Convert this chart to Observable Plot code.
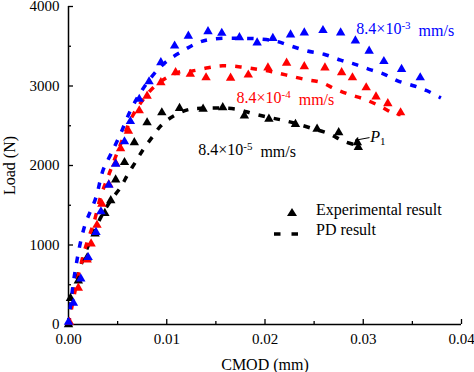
<!DOCTYPE html>
<html><head><meta charset="utf-8">
<script src="https://cdn.jsdelivr.net/npm/d3@7"></script>
<script src="https://cdn.jsdelivr.net/npm/@observablehq/plot@0.6"></script>
<style>
body{margin:0;background:#fff;}
#wrap{position:relative;width:474px;height:372px;font-family:Liberation Serif, Times New Roman, serif;color:#000;}
#wrap svg text{font-family:Liberation Serif, Times New Roman, serif;}
.leg{position:absolute;font-size:16px;line-height:16px;white-space:nowrap;font-family:Liberation Serif, Times New Roman, serif;}
</style></head><body><div id="wrap"></div>
<script>
// ---- data (CMOD in mm, Load in N) ----
const blueExpCmod = [0, 0.0005, 0.00125, 0.0020, 0.0028, 0.0033, 0.0041, 0.0048, 0.0057, 0.0063, 0.0072, 0.0082, 0.0094, 0.0108, 0.0122, 0.0142, 0.0156, 0.0174, 0.0192, 0.0208, 0.0226, 0.0240, 0.0259, 0.0277, 0.0292, 0.0306, 0.0321, 0.0339, 0.0358];
const blueExpLoad = [30, 270, 575, 845, 1160, 1420, 1755, 2020, 2300, 2555, 2835, 3055, 3295, 3505, 3630, 3685, 3665, 3610, 3545, 3600, 3645, 3670, 3700, 3670, 3570, 3440, 3310, 3210, 3105];

const redExpCmod = [0.0001, 0.0010, 0.0019, 0.0023, 0.0029, 0.0034, 0.0041, 0.0048, 0.0053, 0.0061, 0.0072, 0.0080, 0.0094, 0.0109, 0.0124, 0.0140, 0.0165, 0.0183, 0.0203, 0.0222, 0.0240, 0.0261, 0.0278, 0.0289, 0.0303, 0.0313, 0.0325, 0.0338];
const redExpLoad = [30, 460, 815, 1015, 1250, 1515, 1760, 2025, 2215, 2435, 2690, 2875, 3045, 3170, 3150, 3105, 3100, 3140, 3230, 3290, 3245, 3230, 3170, 3105, 2980, 2865, 2780, 2665];

const blackExpCmod = [0, 0.0002, 0.0010, 0.0019, 0.0027, 0.0037, 0.0043, 0.0048, 0.0057, 0.0067, 0.0080, 0.0095, 0.0113, 0.0137, 0.0157, 0.0179, 0.0204, 0.0231, 0.0253, 0.0275, 0.0294, 0.0295];
const blackExpLoad = [0, 330, 550, 840, 1140, 1400, 1560, 1820, 2040, 2290, 2540, 2665, 2720, 2710, 2730, 2625, 2585, 2520, 2460, 2415, 2290, 2230];

const bluePdCmod = [0, 0.0006, 0.0016, 0.0028, 0.0035, 0.0043, 0.0053, 0.0063, 0.0075, 0.0089, 0.0101, 0.0116, 0.0131, 0.0146, 0.0175, 0.0196, 0.0211, 0.0226, 0.0243, 0.0260, 0.0277, 0.0291, 0.0306, 0.0321, 0.0335, 0.0352, 0.0365, 0.0379];
const bluePdLoad = [0, 615, 1220, 1600, 1935, 2140, 2400, 2690, 2950, 3180, 3320, 3440, 3540, 3590, 3600, 3590, 3565, 3505, 3440, 3400, 3325, 3275, 3210, 3150, 3065, 3000, 2940, 2850];

const redPdCmod = [0, 0.0009, 0.0017, 0.0026, 0.0033, 0.0040, 0.0047, 0.0055, 0.0065, 0.0076, 0.0088, 0.0102, 0.0114, 0.0126, 0.0142, 0.0157, 0.0175, 0.0192, 0.0207, 0.0221, 0.0240, 0.0257, 0.0272, 0.0287, 0.0301, 0.0318, 0.0331, 0.0338];
const redPdLoad = [0, 560, 960, 1290, 1620, 1850, 2080, 2330, 2620, 2830, 3000, 3120, 3180, 3190, 3230, 3255, 3240, 3210, 3180, 3140, 3085, 3045, 2960, 2890, 2835, 2740, 2655, 2640];

const blackPdCmod = [0, 0.0003, 0.0012, 0.0022, 0.0033, 0.0043, 0.0053, 0.0060, 0.0069, 0.0076, 0.0086, 0.0094, 0.0104, 0.0121, 0.0138, 0.0170, 0.0187, 0.0204, 0.0218, 0.0231, 0.0247, 0.0265, 0.0281, 0.0296];
const blackPdLoad = [0, 330, 720, 1050, 1350, 1560, 1725, 1880, 2060, 2200, 2370, 2500, 2600, 2700, 2720, 2710, 2655, 2605, 2570, 2530, 2470, 2400, 2300, 2250];

const rateLabels = ["8.4×10^-3 mm/s", "8.4×10^-4 mm/s", "8.4×10^-5 mm/s"];
const rateColors = ["#0000ff", "#ff0000", "#000000"];
const rateLabelCmod = [0.0293, 0.0171, 0.0132];
const rateLabelLoad = [3720, 2850, 2200];

const p1Label = ["P_1"];
const p1Cmod = [0.0307];
const p1Load = [2360];
const p1ArrowFrom = [0.0306, 2350];
const p1ArrowTo = [0.0292, 2318];

const xTicks = [0, 0.01, 0.02, 0.03, 0.04];
const xMinor = [0.005, 0.015, 0.025, 0.035];
const yTicks = [0, 1000, 2000, 3000, 4000];
const yMinor = [500, 1500, 2500, 3500];

const legendLabels = ["Experimental result", "PD result"];

// ---- build tables ----
const zip = (xs, ys) => xs.map((x, i) => ({x, y: ys[i]}));
const series = [
  {exp: zip(blackExpCmod, blackExpLoad), pd: zip(blackPdCmod, blackPdLoad), color: rateColors[2]},
  {exp: zip(redExpCmod, redExpLoad), pd: zip(redPdCmod, redPdLoad), color: rateColors[1]},
  {exp: zip(blueExpCmod, blueExpLoad), pd: zip(bluePdCmod, bluePdLoad), color: rateColors[0]}
];
const labelData = rateLabels.map((t, i) => ({t, x: rateLabelCmod[i], y: rateLabelLoad[i], c: rateColors[i]}));

const dash = {strokeWidth: 3.5, strokeDasharray: "6.5,9", strokeLinecap: "butt", curve: "catmull-rom"};
const FONT = "Liberation Serif, Times New Roman, serif";

const marks = [
  Plot.axisX(xMinor, {tickSize: -3, tickFormat: () => "", label: null, strokeWidth: 1.3}),
  Plot.axisX(xTicks, {tickSize: -5, tickFormat: d3.format(".2f"), label: "CMOD (mm)", labelAnchor: "center", labelArrow: "none", strokeWidth: 1.3}),
  Plot.axisY(yMinor, {tickSize: -3, tickFormat: () => "", label: null, strokeWidth: 1.3}),
  Plot.axisY(yTicks, {tickSize: -5, tickFormat: d3.format("d"), label: "Load (N)", labelAnchor: "center", labelArrow: "none", strokeWidth: 1.3}),
  Plot.ruleX([0], {strokeWidth: 1.5}),
  Plot.ruleY([0], {strokeWidth: 1.5})
];
for (const s of series) {
  marks.push(Plot.line(s.pd, {x: "x", y: "y", stroke: s.color, ...dash}));
}
for (const s of series) {
  marks.push(Plot.dot(s.exp, {x: "x", y: "y", symbol: "triangle", r: 3.5, fill: s.color, stroke: "none"}));
}
marks.push(
  Plot.text(labelData, {x: "x", y: "y", text: "t", fill: "c", textAnchor: "start", fontSize: 16}),
  Plot.text(p1Label, {x: () => p1Cmod[0], y: () => p1Load[0], text: d => d, textAnchor: "start", fontSize: 16}),
  Plot.arrow([0], {x1: () => p1ArrowFrom[0], y1: () => p1ArrowFrom[1], x2: () => p1ArrowTo[0], y2: () => p1ArrowTo[1], stroke: "black", strokeWidth: 1, headLength: 5})
);

const plot = Plot.plot({
  width: 474, height: 372,
  marginLeft: 68, marginRight: 13, marginTop: 6, marginBottom: 48,
  x: {domain: [0, 0.04]},
  y: {domain: [0, 4000]},
  style: {fontFamily: FONT, fontSize: "15px", background: "white", color: "black", overflow: "visible"},
  marks
});

// superscript / subscript handling
d3.select(plot).selectAll("text").each(function() {
  const el = d3.select(this);
  const txt = this.textContent;
  if (txt.includes("^")) {
    const [base, restAll] = txt.split("^");
    const sp = restAll.indexOf(" ");
    const sup = restAll.slice(0, sp), rest = restAll.slice(sp + 1);
    el.text(null);
    el.append("tspan").text(base);
    el.append("tspan").attr("dy", "-0.45em").attr("font-size", "11px").text(sup);
    el.append("tspan").attr("dy", "0.45em").text("\u00a0\u00a0" + rest);
  } else if (txt.includes("_")) {
    const [base, sub] = txt.split("_");
    el.text(null);
    el.append("tspan").attr("font-style", "italic").text(base);
    el.append("tspan").attr("dy", "0.3em").attr("font-size", "11px").text(sub);
  }
});
// axis titles slightly larger
d3.select(plot).selectAll('g[aria-label="x-axis label"] text, g[aria-label="y-axis label"] text').attr("font-size", "16px");

const wrap = document.getElementById("wrap");
wrap.appendChild(plot);

// legend overlay
const l1 = document.createElement("div");
l1.className = "leg"; l1.style.left = "286px"; l1.style.top = "204px";
l1.innerHTML = '<svg width="12" height="10"><polygon points="6,1 11,9 1,9" fill="black"/></svg>';
wrap.appendChild(l1);
const t1 = document.createElement("div");
t1.className = "leg"; t1.style.left = "316px"; t1.style.top = "202px"; t1.textContent = legendLabels[0];
wrap.appendChild(t1);
const l2 = document.createElement("div");
l2.className = "leg"; l2.style.left = "274px"; l2.style.top = "226px";
l2.innerHTML = '<svg width="34" height="10"><line x1="0" y1="5" x2="30" y2="5" stroke="black" stroke-width="3.5" stroke-dasharray="6.5,11"/></svg>';
wrap.appendChild(l2);
const t2 = document.createElement("div");
t2.className = "leg"; t2.style.left = "316px"; t2.style.top = "222px"; t2.textContent = legendLabels[1];
wrap.appendChild(t2);
</script></body></html>
